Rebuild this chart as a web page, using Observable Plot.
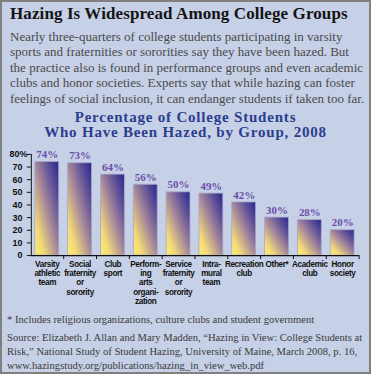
<!DOCTYPE html>
<html><head><meta charset="utf-8">
<script src="https://cdn.jsdelivr.net/npm/d3@7"></script>
<script src="https://cdn.jsdelivr.net/npm/@observablehq/plot@0.6"></script>
<style>
body{margin:0;background:#fff;}
#card{position:relative;width:371px;height:374px;box-sizing:border-box;background:#c6d0e7;border:2px solid #808080;overflow:hidden;}
.l{position:absolute;left:8px;white-space:nowrap;}
#title{top:2px;font:bold 17px "Liberation Serif",serif;line-height:20px;color:#141414;letter-spacing:0.1px;}
#body{top:27px;font:13px "Liberation Serif",serif;line-height:15.4px;color:#4a4a4a;}
#ctitle{left:0;width:367px;text-align:center;top:108px;font:bold 15px "Liberation Serif",serif;line-height:15px;color:#2b3d8d;letter-spacing:0.8px;}
#chart{position:absolute;left:-2px;top:136px;}
#foot{top:311px;font:10.6px "Liberation Serif",serif;line-height:13px;color:#3a3a3a;left:5px;}
#source{top:329px;font:10.6px "Liberation Serif",serif;line-height:13.8px;color:#3a3a3a;left:5px;}
</style>
</head><body>
<div id="card">
  <div id="title" class="l"></div>
  <div id="body" class="l"></div>
  <div id="ctitle" class="l"></div>
  <div id="chart"></div>
  <div id="foot" class="l"></div>
  <div id="source" class="l"></div>
</div>
<script>
const titleText = "Hazing Is Widespread Among College Groups";
const bodyLines = [
  "Nearly three-quarters of college students participating in varsity",
  "sports and fraternities or sororities say they have been hazed. But",
  "the practice also is found in performance groups and even academic",
  "clubs and honor societies. Experts say that while hazing can foster",
  "feelings of social inclusion, it can endanger students if taken too far."
];
const chartTitleLines = ["Percentage of College Students", "Who Have Been Hazed, by Group, 2008"];
const categories = [
  "Varsity\nathletic\nteam",
  "Social\nfraternity\nor\nsorority",
  "Club\nsport",
  "Perform-\ning\narts\norgani-\nzation",
  "Service\nfraternity\nor\nsorority",
  "Intra-\nmural\nteam",
  "Recreation\nclub",
  "Other*",
  "Academic\nclub",
  "Honor\nsociety"
];
const values = [74, 73, 64, 56, 50, 49, 42, 30, 28, 20];
const yTicks = [0, 10, 20, 30, 40, 50, 60, 70, 80];
const footnote = "* Includes religious organizations, culture clubs and student government";
const sourceLines = [
  "Source: Elizabeth J. Allan and Mary Madden, \u201cHazing in View: College Students at",
  "Risk,\u201d National Study of Student Hazing, University of Maine, March 2008, p. 16,",
  "www.hazingstudy.org/publications/hazing_in_view_web.pdf"
];

document.getElementById("title").textContent = titleText;
document.getElementById("body").innerHTML = bodyLines.map(s => `<div>${s}</div>`).join("");
document.getElementById("ctitle").innerHTML = chartTitleLines.map(s => `<div>${s}</div>`).join("");
document.getElementById("foot").textContent = footnote;
document.getElementById("source").innerHTML = sourceLines.map(s => `<div>${s}</div>`).join("");

const data = categories.map((c, i) => ({cat: c, value: values[i]}));

const W = 371, mL = 31, mR = 10;
const pInner = 0.27, pOuter = 0.12;
const step = (W - mL - mR) / (categories.length - pInner + 2 * pOuter);

const chart = Plot.plot({
  width: W,
  height: 172,
  marginLeft: mL,
  marginRight: mR,
  marginTop: 16,
  marginBottom: 54.3,
  style: {background: "transparent", fontFamily: "'Liberation Sans', Arial, sans-serif", fontSize: "9px", fontWeight: "bold", color: "#111"},
  x: {domain: categories, paddingInner: pInner, paddingOuter: pOuter, axis: null},
  y: {domain: [0, 80], ticks: yTicks, tickFormat: d => d === 80 ? "80%" : String(d), tickSize: 4, tickPadding: 5, label: null, line: true},
  marks: [
    Plot.barY(data, {x: "cat", y: "value", fill: "url(#barGrad)", stroke: "#a9a6c8", strokeWidth: 0.8}),
    Plot.ruleY([0], {stroke: "#111", strokeWidth: 1.2}),
    Plot.ruleX(data, {x: "cat", y1: 0, y2: -3.2, dx: step / 2, stroke: "#111", strokeWidth: 1}),
    Plot.text(data, {x: "cat", y: "value", text: d => d.value + "%", dy: -7.5, fill: "#6a4ea5", fontFamily: "'Liberation Serif', serif", fontSize: 11, fontWeight: "bold"}),
    Plot.text(data, {x: "cat", y: 0, text: "cat", lineAnchor: "top", dy: 5, lineHeight: 1.13, fill: "#111", fontFamily: "'Liberation Sans', Arial, sans-serif", fontSize: 8.2, fontWeight: "bold"})
  ]
});

const ns = "http://www.w3.org/2000/svg";
const defs = document.createElementNS(ns, "defs");
const grad = document.createElementNS(ns, "linearGradient");
grad.setAttribute("id", "barGrad");
grad.setAttribute("x1", "0"); grad.setAttribute("y1", "1");
grad.setAttribute("x2", "1"); grad.setAttribute("y2", "0");
[["0", "#fff070"], ["0.2", "#f2d878"], ["0.5", "#a6889a"], ["0.78", "#5a4c98"], ["1", "#26288a"]].forEach(([o, c]) => {
  const s = document.createElementNS(ns, "stop");
  s.setAttribute("offset", o); s.setAttribute("stop-color", c);
  grad.appendChild(s);
});
defs.appendChild(grad);
chart.insertBefore(defs, chart.firstChild);
chart.querySelectorAll("text").forEach(t => { if (t.textContent === "80%") t.setAttribute("dx", "5"); });
const textGroups = chart.querySelectorAll('g[aria-label="text"]');
if (textGroups.length) textGroups[textGroups.length - 1].setAttribute("letter-spacing", "-0.35");
document.getElementById("chart").appendChild(chart);
</script>
</body></html>
